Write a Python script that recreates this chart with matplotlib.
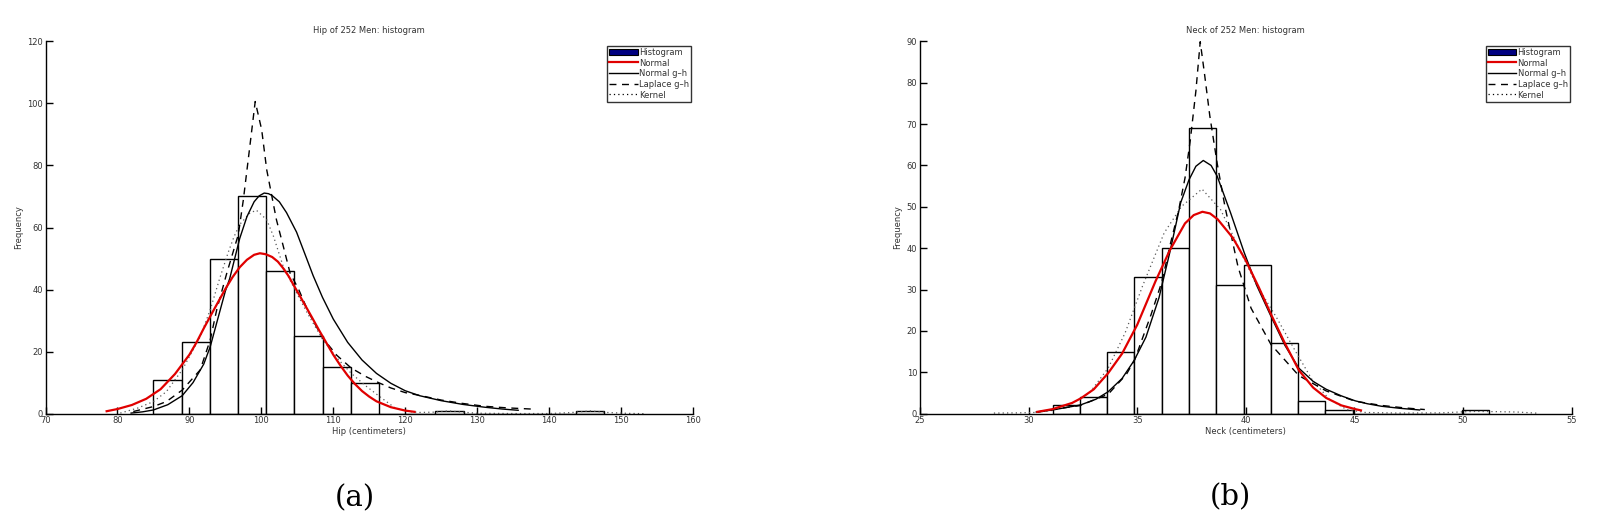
import numpy as np
import matplotlib.pyplot as plt
from matplotlib.patches import Patch
from matplotlib.lines import Line2D

# ---------------- Hip data ----------------
hip_range = (85.0, 147.7)
hip_counts = [11, 23, 50, 70, 46, 25, 15, 10, 0, 0, 1, 0, 0, 0, 0, 1]

hip_normal_x = [78.5, 80, 82, 84, 86, 88, 90, 91, 92, 93, 94, 95, 96, 97, 98, 99, 99.8, 100.6,
                101.5, 102.3, 103, 103.8, 104.6, 105.3, 106, 107, 108, 109, 110, 111, 112,
                113, 114, 115, 116, 118, 120, 121.3]
hip_normal_y = [0.8, 1.5, 2.8, 4.8, 7.9, 12.8, 19, 23, 27.5, 31.8, 36, 40.2, 44, 47.2, 49.6,
                51.2, 51.7, 51.4, 50.5, 49, 47, 44.3, 41, 38.2, 35.3, 31.2, 27, 23, 19, 15.5,
                12.3, 9.6, 7.3, 5.5, 4.0, 2.1, 1.0, 0.6]

hip_gh_x = [81.9, 83.5, 85, 87, 89, 90.5, 92, 92.9, 94, 95, 95.6, 96.3, 97, 98, 99, 99.7,
            100.4, 101, 101.5, 102.5, 103.5, 104.9, 106.3, 107.2, 108.5, 110, 112, 114, 116,
            118, 120, 122, 125, 128, 131, 133.5, 135.7]
hip_gh_y = [0.2, 0.6, 1.2, 2.9, 5.8, 10, 16, 21.6, 31, 39.5, 43.5, 50, 56.5, 63.5, 68.3, 70.2,
            71.1, 70.9, 70.3, 68.3, 64.8, 58.5, 50, 44.5, 37.5, 30.5, 23, 17.3, 13,
            9.8, 7.4, 5.8, 4.2, 3.0, 2.1, 1.5, 1.1]

hip_lap_x = [82.2, 85, 86.8, 89, 91.5, 92.9, 93.8, 95.2, 96.8, 97.5, 98.4, 99.15, 100.05,
             100.75, 102.1, 103.06, 104.0, 105.2, 106.5, 108.5, 110.5, 112.5, 114.5, 116.4,
             118, 120, 122, 125, 128, 131, 134, 137.5]
hip_lap_y = [0.7, 2.3, 3.9, 7.6, 14.1, 23.8, 33.5, 45.3, 57.7, 68.9, 86.1, 100.6, 91.5,
             78.6, 62.5, 53.9, 45.3, 40, 33, 24.5, 18.8, 14.7, 12, 9.9,
             8.3, 6.8, 5.9, 4.4, 3.3, 2.4, 1.9, 1.5]

hip_ker_x = [80.4, 82.8, 85, 86.8, 89, 91.5, 92.9, 94.2, 95.4, 96.2, 97, 98.4, 99.3, 100.75,
             101.7, 103.05, 104, 105, 106.5, 108.5, 110.5, 112.5, 114.5, 116.4, 118.5, 120,
             122, 124, 126, 128, 130, 135, 140, 143, 145.7, 148, 151, 153.5]
hip_ker_y = [0.2, 1.8, 3.9, 7.1, 14.1, 24.8, 33.5, 43.5, 52, 57, 61, 64.6, 65.6, 62.5,
             57.1, 47.4, 43, 38.5, 32, 24, 18, 13, 9, 5.6, 2, 0.8,
             0.4, 0.5, 0.9, 0.5, 0.15, 0.05, 0.05, 0.35, 0.9, 0.4, 0.1, 0.0]

# ---------------- Neck data ----------------
neck_range = (31.1, 51.2)
neck_counts = [2, 4, 15, 33, 40, 69, 31, 36, 17, 3, 1, 0, 0, 0, 0, 1]

neck_normal_x = [30.4, 31.1, 32, 32.4, 33, 33.66, 34.3, 35, 35.84, 36.5, 37.2, 37.6, 38, 38.35,
                 38.7, 39.4, 40, 40.6, 41.16, 41.8, 42.44, 43.1, 43.7, 44.4, 45.04, 45.3]
neck_normal_y = [0.45, 1.1, 2.6, 3.7, 5.9, 9.8, 14.5, 21.5, 32, 39.5, 46, 48, 48.8, 48.4,
                 47, 42.5, 37, 30.5, 24, 17, 10.5, 6.3, 3.8, 2.0, 1.1, 0.8]

neck_gh_x = [30.35, 31.1, 32.38, 33.1, 33.66, 34.3, 34.85, 35.4, 36, 36.5, 37, 37.38, 37.7,
             38.04, 38.4, 38.68, 39.3, 39.92, 40.5, 41.16, 41.8, 42.44, 43.1, 43.7, 44.4,
             45.04, 45.6, 46.24, 47.1, 48.0]
neck_gh_y = [0.4, 0.9, 2.1, 3.5, 5.3, 8.5, 12.8, 18.5, 28, 39, 51, 56.5, 59.8,
             61.2, 60, 57.4, 48.5, 39, 31, 23.5, 16.5, 11, 7.8, 5.9, 4.3,
             3.1, 2.4, 1.8, 1.3, 0.9]

neck_lap_x = [30.44, 31.1, 32.38, 33.66, 34.5, 34.88, 35.64, 36.14, 36.5, 36.9, 37.2, 37.44,
              37.7, 37.9, 38.1, 38.34, 38.68, 39.04, 39.64, 40.24, 41.16, 42.44, 43.7,
              45.04, 46.24, 47.3, 48.24]
neck_lap_y = [0.4, 1.0, 2.0, 4.7, 9.5, 13, 24, 32, 40.5, 49, 57, 66,
              78, 89.9, 82, 72, 60.5, 50, 35.5, 25.5, 16.7, 9.2, 5.5,
              3.0, 2.0, 1.4, 1.0]

neck_ker_x = [28.4, 29.5, 30.3, 31.1, 32, 32.8, 33.66, 34.44, 35.24, 36.24, 37.04, 37.98,
              38.84, 39.64, 40.44, 41.44, 42.24, 43.04, 43.84, 44.64, 45.5, 47, 49, 50,
              50.6, 51.5, 52.5, 53.5]
neck_ker_y = [0.15, 0.2, 0.3, 0.8, 2.5, 5, 11, 19.5, 30.8, 43.7, 50.1, 54.3,
              49.3, 40.5, 31.6, 23, 15.5, 8.3, 3.5, 1.0, 0.3, 0.15, 0.2, 0.45,
              0.55, 0.5, 0.4, 0.1]

FS = 6

fig = plt.figure(figsize=(16.09, 5.27), dpi=100)


def panel(rect, rng, counts, curves, xlim, ylim, xstep, ystep, title, xlabel):
    ax = fig.add_axes(rect)
    edges = np.linspace(rng[0], rng[1], len(counts) + 1)
    ax.bar(edges[:-1], counts, width=np.diff(edges), align='edge',
           facecolor='white', edgecolor='black', linewidth=1.0, zorder=1)
    (nx, ny), (gx, gy), (lx, ly), (kx, ky) = curves
    ax.plot(nx, ny, color='#e00000', lw=1.6, zorder=4)
    ax.plot(gx, gy, color='black', lw=1.0, zorder=3)
    ax.plot(lx, ly, color='black', lw=1.0, ls=(0, (5, 4)), zorder=3)
    ax.plot(kx, ky, color='0.35', lw=0.9, ls=(0, (1, 2.5)), zorder=2)
    ax.set_xlim(xlim)
    ax.set_ylim(ylim)
    ax.set_xticks(np.arange(xlim[0], xlim[1] + 0.1, xstep))
    ax.set_yticks(np.arange(ylim[0], ylim[1] + 0.1, ystep))
    for s in ['top', 'right']:
        ax.spines[s].set_visible(False)
    for s in ['left', 'bottom']:
        ax.spines[s].set_linewidth(1.0)
    ax.tick_params(direction='in', length=5, width=1.0, labelsize=FS, pad=2, colors='black')
    ax.tick_params(labelcolor='#333333')
    ax.set_title(title, fontsize=FS, pad=6, color='#333333')
    ax.set_xlabel(xlabel, fontsize=FS, labelpad=1, color='#333333')
    ax.set_ylabel('Frequency', fontsize=FS, labelpad=3, color='#333333')

    handles = [Patch(facecolor='#000080', edgecolor='black', linewidth=0.8),
               Line2D([], [], color='#e00000', lw=1.6),
               Line2D([], [], color='black', lw=1.0),
               Line2D([], [], color='black', lw=1.0, ls=(0, (5, 4))),
               Line2D([], [], color='black', lw=0.9, ls=(0, (1, 2.5)))]
    labels = ['Histogram', 'Normal', 'Normal g\u2013h', 'Laplace g\u2013h', 'Kernel']
    leg = ax.legend(handles, labels, loc='upper right', bbox_to_anchor=(0.997, 0.988),
                    borderaxespad=0, fontsize=FS, frameon=True, fancybox=False,
                    edgecolor='black', handlelength=3.4, handleheight=0.9,
                    handletextpad=0.15, labelspacing=0.2, borderpad=0.25)
    leg.get_frame().set_linewidth(1.0)
    for t in leg.get_texts():
        t.set_color('#333333')
    return ax


panel([0.02828, 0.215, 0.4024, 0.7066], hip_range, hip_counts,
      [(hip_normal_x, hip_normal_y), (hip_gh_x, hip_gh_y),
       (hip_lap_x, hip_lap_y), (hip_ker_x, hip_ker_y)],
      (70, 160), (0, 120), 10, 20, 'Hip of 252 Men: histogram', 'Hip (centimeters)')

panel([0.5718, 0.215, 0.4050, 0.7066], neck_range, neck_counts,
      [(neck_normal_x, neck_normal_y), (neck_gh_x, neck_gh_y),
       (neck_lap_x, neck_lap_y), (neck_ker_x, neck_ker_y)],
      (25, 55), (0, 90), 5, 10, 'Neck of 252 Men: histogram', 'Neck (centimeters)')

fig.text(355 / 1609, 1 - 498 / 527, '(a)', ha='center', va='center',
         fontsize=21, family='DejaVu Serif')
fig.text(1230 / 1609, 1 - 497 / 527, '(b)', ha='center', va='center',
         fontsize=21, family='DejaVu Serif')

fig.savefig('out.png', dpi=100)
